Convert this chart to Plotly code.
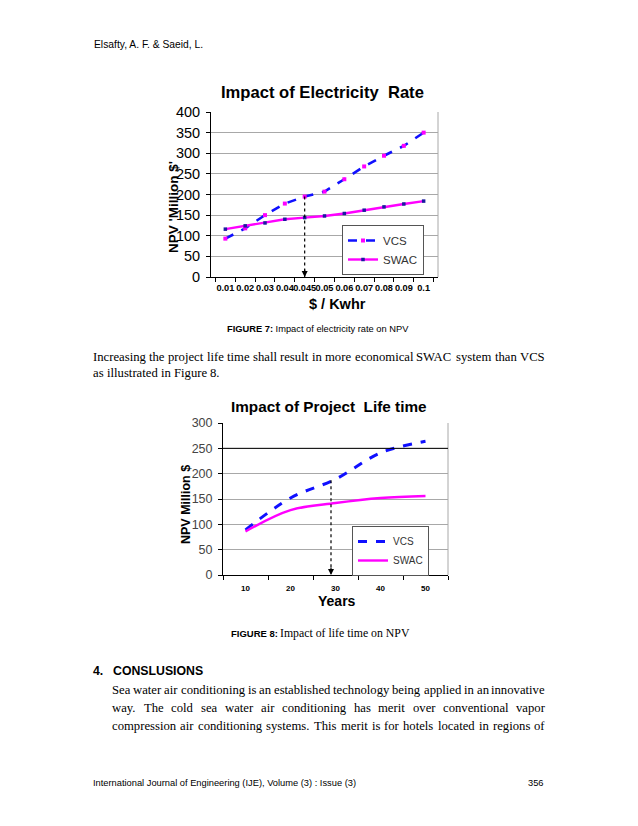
import plotly.graph_objects as go

# ---------------- data ----------------
elec_rate = ["0.01", "0.02", "0.03", "0.04", "0.045", "0.05", "0.06", "0.07", "0.08", "0.09", "0.1"]
vcs_elec = [93, 118, 150, 178, 195, 207, 237, 268, 294, 318, 350]
swac_elec = [116, 124, 131, 140, 144, 148, 154, 162, 170, 177, 184]
elec_marker_rate = "0.045"
elec_marker_npv = 195

years = [10, 20, 30, 40, 50]
vcs_life = [89, 152, 189, 241, 264]
swac_life = [86, 128, 142, 152, 156]
life_marker_year = 29
life_marker_npv = 187

year_ticks = [10, 20, 30, 40, 50]
year_minor = [5, 15, 25, 35, 45, 55]

W, H = 638, 826
BLUE = "#1010ff"
MAG = "#ff00ff"
SANS = "Liberation Sans"
SERIF = "Liberation Serif"


def px(x):
    return x / W


def py(y):
    return 1 - y / H


fig = go.Figure()

# ---------------- chart 1 ----------------
fig.add_trace(go.Scatter(x=elec_rate, y=vcs_elec, name="VCS", mode="lines+markers",
                         line=dict(color=BLUE, width=2.6, dash="dash"),
                         marker=dict(symbol="square", size=4, color=MAG),
                         xaxis="x", yaxis="y", legend="legend", legendgroup="a"))
fig.add_trace(go.Scatter(x=elec_rate, y=swac_elec, name="SWAC", mode="lines+markers",
                         line=dict(color=MAG, width=2.4),
                         marker=dict(symbol="square", size=3.5, color="#1a1aa0"),
                         xaxis="x", yaxis="y", legend="legend", legendgroup="b"))
fig.add_trace(go.Scatter(x=[elec_marker_rate, elec_marker_rate], y=[elec_marker_npv, 0],
                         mode="lines", line=dict(color="black", width=1.2, dash="dot"),
                         xaxis="x", yaxis="y", showlegend=False, hoverinfo="skip"))

# ---------------- chart 2 ----------------
fig.add_trace(go.Scatter(x=years, y=vcs_life, name="VCS", mode="lines",
                         line=dict(color=BLUE, width=3, dash="dash", shape="spline"),
                         xaxis="x2", yaxis="y2", legend="legend2"))
fig.add_trace(go.Scatter(x=years, y=swac_life, name="SWAC", mode="lines",
                         line=dict(color=MAG, width=2.4, shape="spline"),
                         xaxis="x2", yaxis="y2", legend="legend2"))
fig.add_trace(go.Scatter(x=[life_marker_year, life_marker_year], y=[life_marker_npv, 0],
                         mode="lines", line=dict(color="black", width=1.2, dash="dot"),
                         xaxis="x2", yaxis="y2", showlegend=False, hoverinfo="skip"))

GRID = "#a8a8a8"
fig.update_layout(
    width=W, height=H, margin=dict(l=0, r=0, t=0, b=0, pad=0, autoexpand=False),
    paper_bgcolor="white", plot_bgcolor="white",
    font=dict(family=SANS, color="black"),
    xaxis=dict(domain=[px(211), px(438)], anchor="y", type="category", automargin=False,
               categoryorder="array", categoryarray=elec_rate,
               tickson="boundaries", ticks="outside", ticklen=4, tickcolor="black",
               tickangle=0, ticklabelstandoff=2,
               showline=True, linecolor="black", linewidth=1, showgrid=False,
               tickfont=dict(family=SANS, size=9.2, weight="bold"), zeroline=False),
    yaxis=dict(domain=[py(277), py(112)], anchor="x", range=[0, 400], dtick=50,
               automargin=False,
               ticks="outside", ticklen=4, tickcolor="black", ticklabelstandoff=3,
               showline=True, linecolor="black", linewidth=1,
               gridcolor=GRID, gridwidth=1, zeroline=False,
               tickfont=dict(family=SANS, size=14.5, color="black")),
    xaxis2=dict(domain=[px(223), px(448)], anchor="y2", range=[5, 55], automargin=False,
                tickvals=year_ticks, ticks="", showline=True, linecolor="black",
                linewidth=1, showgrid=False, zeroline=False, tickangle=0,
                ticklabelstandoff=5,
                minor=dict(tickvals=year_minor, ticks="outside", ticklen=4, tickcolor="black"),
                tickfont=dict(family=SANS, size=8, weight="bold")),
    yaxis2=dict(domain=[py(575), py(423)], anchor="x2", range=[0, 300], dtick=50,
                automargin=False,
                ticks="outside", ticklen=4, tickcolor="black", ticklabelstandoff=3,
                showline=True, linecolor="black", linewidth=1,
                gridcolor=GRID, gridwidth=1, zeroline=False,
                tickfont=dict(family=SANS, size=12.5, color="#444")),
    legend=dict(x=px(342), y=py(225), xanchor="left", yanchor="top",
                bgcolor="white", bordercolor="#555", borderwidth=1,
                font=dict(family=SANS, size=11.5, color="#333"),
                traceorder="grouped", tracegroupgap=0, itemwidth=30),
    legend2=dict(x=px(352), y=py(526), xanchor="left", yanchor="top",
                 bgcolor="white", bordercolor="#555", borderwidth=1,
                 font=dict(family=SANS, size=10, color="#333"),
                 traceorder="normal", itemwidth=30),
    showlegend=True,
)

shapes = [
    dict(type="line", xref="x domain", yref="y domain", x0=1, x1=1, y0=0, y1=1,
         line=dict(color=GRID, width=1)),
    dict(type="line", xref="x2 domain", yref="y2 domain", x0=1, x1=1, y0=0, y1=1,
         line=dict(color=GRID, width=1)),
    dict(type="line", xref="x2 domain", yref="y2", x0=0, x1=1, y0=250, y1=250,
         line=dict(color="black", width=1)),
]
fig.update_layout(shapes=shapes)

ann = []
# arrowheads (category axis positions are given by index)
ann.append(dict(x=elec_rate.index(elec_marker_rate), y=0, xref="x", yref="y", ax=0, ay=-9,
                text="", showarrow=True, arrowhead=2, arrowsize=1, arrowwidth=1.2,
                arrowcolor="black"))
ann.append(dict(x=life_marker_year, y=0, xref="x2", yref="y2", ax=0, ay=-9, text="",
                showarrow=True, arrowhead=2, arrowsize=1, arrowwidth=1.2, arrowcolor="black"))


def txt(s, x, y, size, family=SANS, xanchor="left", color="black", angle=0, bold=False):
    ann.append(dict(text=s, x=px(x), y=py(y), xref="paper", yref="paper",
                    xanchor=xanchor, yanchor="middle", showarrow=False,
                    borderpad=0, borderwidth=0, textangle=angle,
                    font=dict(family=family, size=size, color=color,
                              weight="bold" if bold else "normal")))


# chart titles / axis titles
txt("Impact of Electricity  Rate", 322, 93, 16.6, xanchor="center", bold=True)
txt("NPV 'Million $'", 173, 207, 13.5, xanchor="center", angle=-90, bold=True)
txt("$ / Kwhr", 337, 304, 14.5, xanchor="center", bold=True)
txt("Impact of Project  Life time", 329, 407, 15.3, xanchor="center", bold=True)
txt("NPV Million $", 186, 505, 12.5, xanchor="center", angle=-90, bold=True)
txt("Years", 337, 601, 14, xanchor="center", bold=True)

# page text
txt("Elsafty, A. F. & Saeid, L.", 94, 44, 10.3)
txt("<b>FIGURE 7:</b> Impact of electricity rate on NPV", 318, 329, 9.3, xanchor="center")
txt("<b>FIGURE 8:</b>", 278, 633, 9.5, xanchor="right")
txt("Impact of life time on NPV", 280, 633, 11.8, family=SERIF)
txt("4.", 93, 671, 12.3, bold=True)
txt("CONSLUSIONS", 113, 671, 12.3, bold=True)
txt("International Journal of Engineering (IJE), Volume (3) : Issue (3)", 93, 783, 9.3)
txt("356", 544, 783, 9.3, xanchor="right")

# Times (Liberation Serif) advance widths, 1/1000 em
TW = {" ": 250, ".": 250, ",": 250, ":": 278, "'": 180, "(": 333, ")": 333}
TW.update(dict(zip("abcdefghijklmnopqrstuvwxyz",
                   [444, 500, 444, 500, 444, 333, 500, 500, 278, 278, 500, 278, 778,
                    500, 500, 500, 500, 333, 389, 278, 500, 500, 722, 500, 500, 444])))
TW.update(dict(zip("ABCDEFGHIJKLMNOPQRSTUVWXYZ",
                   [722, 667, 667, 722, 611, 556, 722, 722, 333, 389, 722, 611, 889,
                    722, 722, 556, 722, 667, 556, 611, 722, 722, 944, 722, 722, 611])))
for d in "0123456789":
    TW[d] = 500


def tw(s, size):
    return sum(TW.get(c, 500) for c in s) * size / 1000


def para_line(line, x0, x1, y, size, justify=True):
    words = line.split()
    widths = [tw(w, size) for w in words]
    if justify and len(words) > 1:
        gap = (x1 - x0 - sum(widths)) / (len(words) - 1)
    else:
        gap = tw(" ", size)
    x = x0
    for w, wd in zip(words, widths):
        txt(w, x, y, size, family=SERIF)
        x += wd + gap


FS = 12.7
para_line("Increasing the project life time shall result in more economical SWAC system than VCS",
          93, 545, 357, FS)
para_line("as illustrated in Figure 8.", 93, 545, 373, FS, justify=False)
para_line("Sea water air conditioning is an established technology being applied in an innovative",
          112, 545, 690, FS)
para_line("way. The cold sea water air conditioning has merit over conventional vapor",
          112, 545, 708, FS)
para_line("compression air conditioning systems. This merit is for hotels located in regions of",
          112, 545, 726, FS)

fig.update_layout(annotations=ann)

post = ("document.documentElement.style.overflow='hidden';"
        "document.body.style.margin='0';document.body.style.overflow='hidden';"
        "var d=document.getElementById('{plot_id}');"
        "d.style.position='fixed';d.style.left='0px';d.style.top='0px';")
fig.write_html("out.html", config={"displayModeBar": False}, post_script=post)
